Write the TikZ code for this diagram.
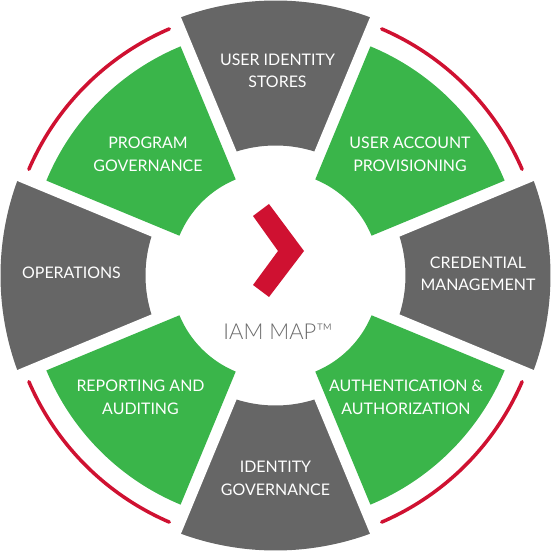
\documentclass[tikz,border=0pt]{standalone}
\usepackage{fontspec}
\setmainfont{Lato}
\newfontfamily\lightfont{Lato Light}
\usetikzlibrary{positioning}

\definecolor{iamgray}{HTML}{666666}
\definecolor{iamgreen}{HTML}{3AB54A}
\definecolor{iamred}{HTML}{CF1131}
\definecolor{iamtext}{HTML}{6B6B6B}

\begin{document}
\begin{tikzpicture}[%
    x=1bp, y=1bp,
    sector/.style={font=\fontsize{16}{22.5}\selectfont, text=white, align=center},
    gap/.style={white, line width=23bp},
    rim/.style={iamred, line width=3.5bp, line cap=round}
  ]
  \useasboundingbox (-275.5,-275.5) rectangle (275.5,275.5);

  % gray sectors
  \foreach \a in {0,90,180,270}
    \fill[iamgray] ({\a-22.5}:130bp) arc[start angle=\a-22.5, end angle=\a+22.5, radius=130bp]
      -- ({\a+22.5}:275bp) arc[start angle=\a+22.5, end angle=\a-22.5, radius=275bp] -- cycle;

  % white gaps
  \foreach \a in {22.5,67.5,...,337.5}
    \draw[gap] (0,0) -- (\a:276bp);

  % green sectors and red rims
  \foreach \a in {45,135,225,315} {
    \fill[iamgreen] ({\a-22.5}:104bp) arc[start angle=\a-22.5, end angle=\a+22.5, radius=104bp]
      -- ({\a+22.5}:248bp) arc[start angle=\a+22.5, end angle=\a-22.5, radius=248bp] -- cycle;
    \draw[rim] ({\a-21.7}:268.5bp) arc[start angle=\a-21.7, end angle=\a+21.7, radius=268.5bp];
  }

  % chevron
  \fill[iamred] (-6.5,71.5) -- (28.5,24.5) -- (-6.5,-21.5) -- (-22.5,-9.5)
    -- (2.5,24.5) -- (-22.5,59.5) -- cycle;

  \node[sector] (stores) at (2,204.5) {USER IDENTITY\\STORES};
  \node[sector] (provisioning) at (134.5,121) {USER ACCOUNT\\PROVISIONING};
  \node[sector] (credential) at (202.5,1.5) {CREDENTIAL\\MANAGEMENT};
  \node[sector] (authn) at (130.5,-122) {AUTHENTICATION \&\\AUTHORIZATION};
  \node[sector] (idgov) at (0,-203) {IDENTITY\\GOVERNANCE};
  \node[sector] (reporting) at (-135,-122) {REPORTING AND\\AUDITING};
  \node[sector] (operations) at (-204,2.5) {OPERATIONS};
  \node[sector] (program) at (-127.5,121) {PROGRAM\\GOVERNANCE};

  \node[font=\lightfont\fontsize{22}{22}\selectfont, text=iamtext, anchor=base] (iammap) at (2.5,-64.5) {IAM MAP™};
\end{tikzpicture}
\end{document}
